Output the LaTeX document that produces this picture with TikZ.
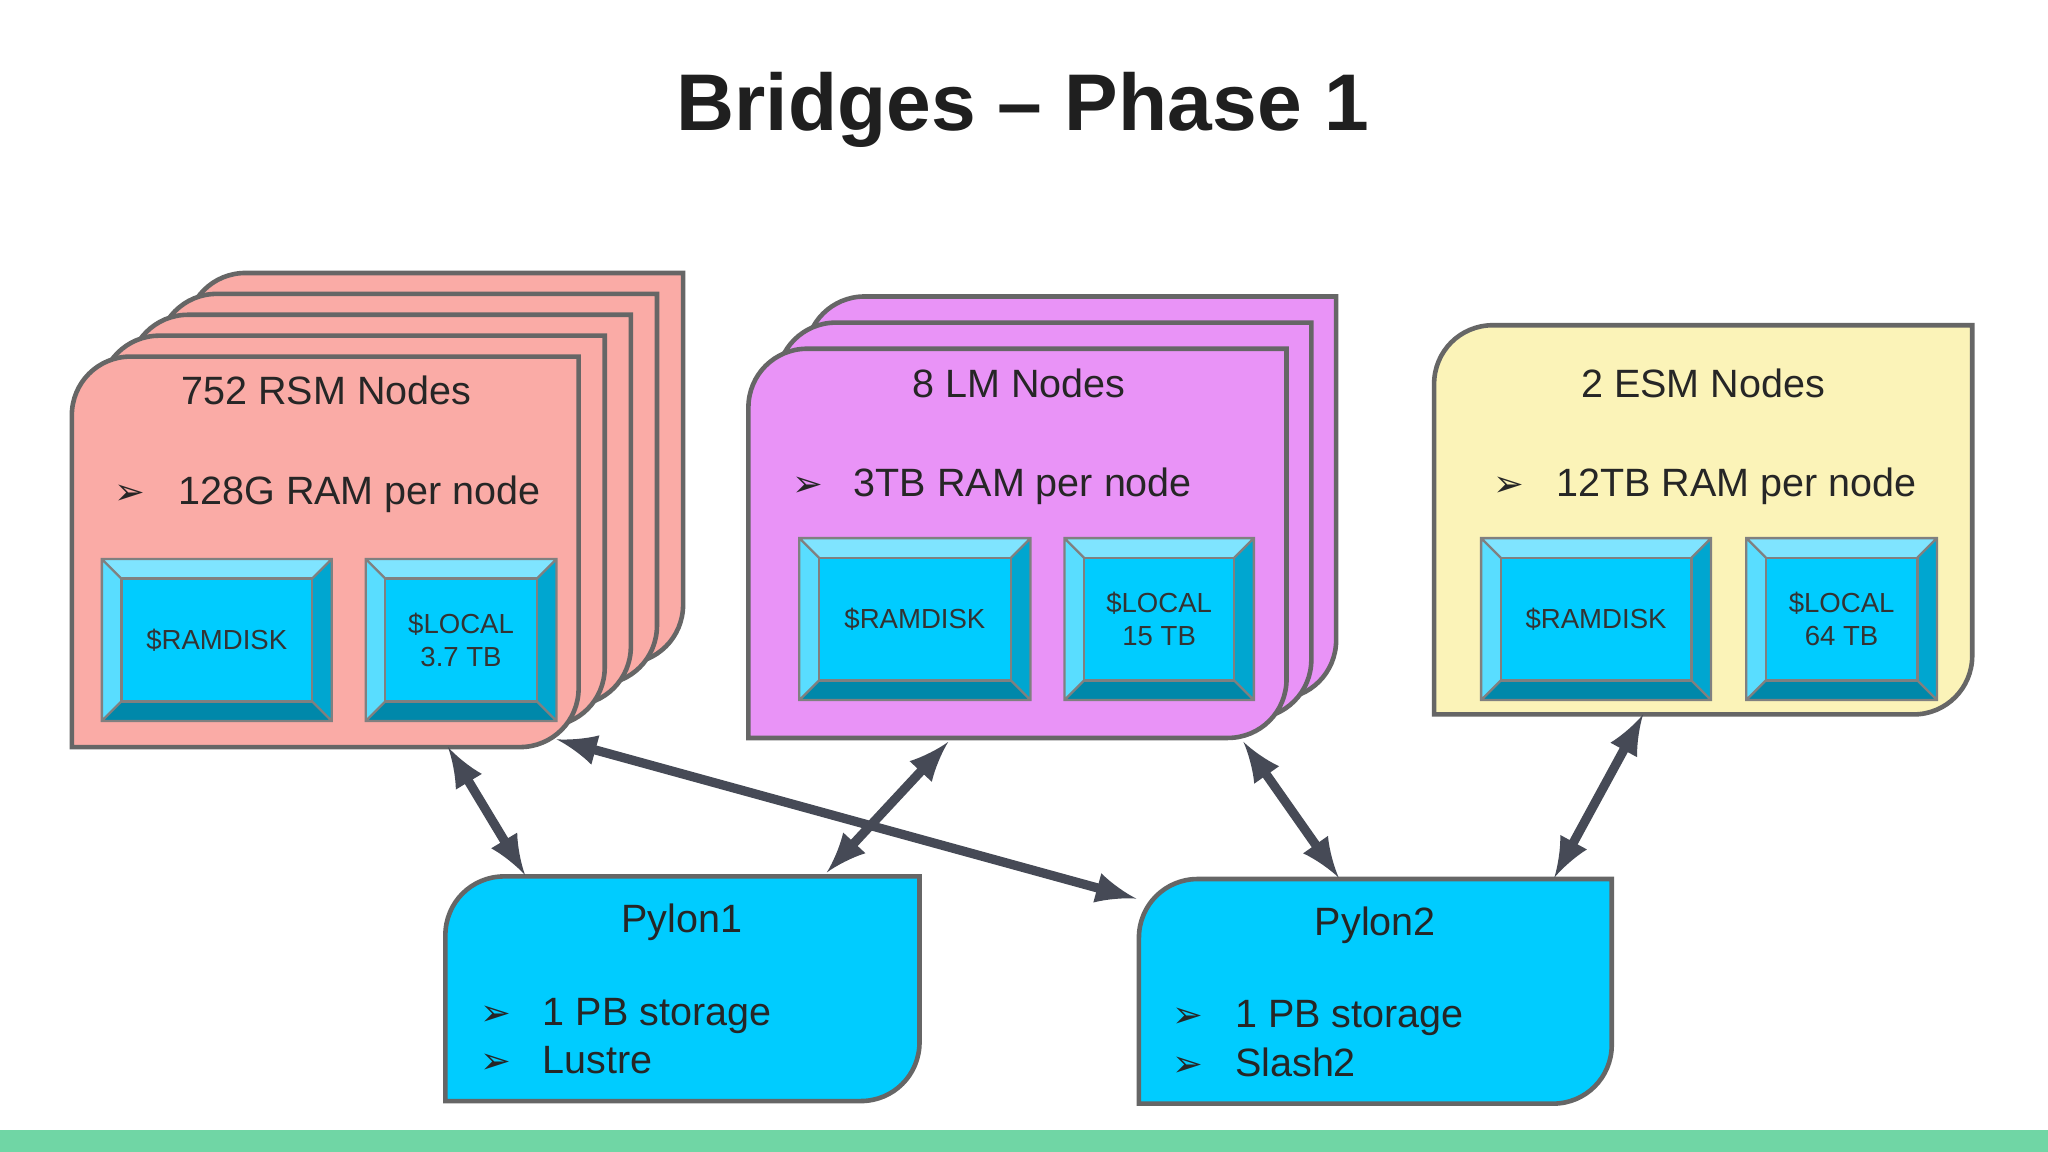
\documentclass[tikz,border=0pt]{standalone}
\usepackage{fontspec}
\setmainfont{Liberation Sans}
\newfontfamily\dejav{DejaVu Sans}
\begin{document}
\begin{tikzpicture}[x=0.01cm,y=-0.01cm,
  edge/.style={line width=1pt,draw=black!60},
  arr/.style={line width=2pt,draw={rgb,255:red,70;green,74;blue,86},<->,>={latex}},
  lbl/.style={font=\fontsize{8.6pt}{10pt}\selectfont,anchor=base,text=black!85},
  bl/.style={font=\fontsize{8.6pt}{10pt}\selectfont,anchor=base west,inner sep=0pt,text=black!85},
  bu/.style={font=\dejav\fontsize{8pt}{10pt}\selectfont,anchor=base west,inner sep=0pt,text=black!85},
  sm/.style={font=\fontsize{6pt}{7.2pt}\selectfont,align=center,text=black!80}]
\definecolor{rsm}{HTML}{FAABA6}\definecolor{lm}{HTML}{E993F7}
\definecolor{esm}{HTML}{FBF3B8}\definecolor{cy}{HTML}{00CCFF}
\definecolor{cyl}{HTML}{7FE4FF}\definecolor{cyd}{HTML}{0088AA}\definecolor{cym}{HTML}{00A6D0}
\definecolor{grn}{HTML}{70D6A5}
\useasboundingbox (0,0) rectangle (1568,882);
\fill[white] (0,0) rectangle (1568,882);
\fill[grn] (0,865) rectangle (1568,882);
\node[font=\fontsize{17.5pt}{20pt}\selectfont\bfseries,text=black!88] (title) at (783,84) {Bridges – Phase 1};
\newcommand\blob[5]{\filldraw[edge,fill=#5] (#1,#4) -- (#1,#2+45) .. controls (#1,#2+20) and (#1+20,#2) .. (#1+45,#2) -- (#3,#2) -- (#3,#4-45) .. controls (#3,#4-20) and (#3-20,#4) .. (#3-45,#4) -- cycle;}
\newcommand\bev[6]{%
 \fill[cyd] (#1,#2) rectangle (#3,#4);
 \fill[cyl] (#1,#2) -- (#3,#2) -- (#3-15,#2+15) -- (#1+15,#2+15) -- cycle;
 \fill[cyl!70!cy] (#1,#2) -- (#1+15,#2+15) -- (#1+15,#4-15) -- (#1,#4) -- cycle;
 \fill[cym] (#3,#2) -- (#3,#4) -- (#3-15,#4-15) -- (#3-15,#2+15) -- cycle;
 \filldraw[fill=cy,draw=black!50,line width=0.5pt] (#1+15,#2+15) rectangle (#3-15,#4-15);
 \draw[black!50,line width=0.5pt] (#1,#2) rectangle (#3,#4) (#1,#2)--(#1+15,#2+15) (#3,#2)--(#3-15,#2+15) (#1,#4)--(#1+15,#4-15) (#3,#4)--(#3-15,#4-15);
 \node[sm] (#6) at ({(#1+#3)/2},{(#2+#4)/2}) {#5};}
% RSM stack
\foreach \i in {4,3,2,1} {\blob{55+22*\i}{273-16*\i}{443+20*\i}{572-16*\i}{rsm}}
\blob{55}{273}{443}{572}{rsm}
\bev{78}{428}{254}{552}{\$RAMDISK}{r1}
\bev{280}{428}{426}{552}{\$LOCAL\\3.7 TB}{r2}
\node[lbl] (rsmt) at (250,310) {752 RSM Nodes};
\node[bu] (rb) at (87,386) {➢};
\node[bl] (rsmb) at (136,386) {128G RAM per node};
% LM stack
\foreach \i in {2,1} {\blob{573+22*\i}{267-20*\i}{985+19*\i}{565-15*\i}{lm}}
\blob{573}{267}{985}{565}{lm}
\bev{612}{412}{789}{536}{\$RAMDISK}{l1}
\bev{815}{412}{960}{536}{\$LOCAL\\15 TB}{l2}
\node[lbl] (lmt) at (780,304) {8 LM Nodes};
\node[bu] (lb) at (606,380) {➢};
\node[bl] (lmb) at (653,380) {3TB RAM per node};
% ESM
\blob{1098}{249}{1510}{547}{esm}
\bev{1134}{412}{1310}{536}{\$RAMDISK}{e1}
\bev{1337}{412}{1483}{536}{\$LOCAL\\64 TB}{e2}
\node[lbl] (esmt) at (1304,304) {2 ESM Nodes};
\node[bu] (eb) at (1143,380) {➢};
\node[bl] (esmb) at (1191,380) {12TB RAM per node};
% Pylons
\blob{341}{671}{704}{843}{cy}
\node[lbl] (p1t) at (522,714) {Pylon1};
\node[bu] (p1a) at (367,785) {➢};
\node[bl] (p1b) at (415,785) {1 PB storage};
\node[bu] (p1c) at (367,822) {➢};
\node[bl] (p1d) at (415,822) {Lustre};
\blob{872}{673}{1234}{845}{cy}
\node[lbl] (p2t) at (1053,716) {Pylon2};
\node[bu] (p2a) at (897,787) {➢};
\node[bl] (p2b) at (945,787) {1 PB storage};
\node[bu] (p2c) at (897,824) {➢};
\node[bl] (p2d) at (945,824) {Slash2};
% arrows
\coordinate (a1) at (343,572); \coordinate (b1) at (402,670);
\coordinate (a2) at (426,566); \coordinate (b2) at (870,688);
\coordinate (a3) at (726,568); \coordinate (b3) at (633,668);
\coordinate (a4) at (952,568); \coordinate (b4) at (1025,672);
\coordinate (a5) at (1258,547); \coordinate (b5) at (1190,672);
\foreach \k in {1,...,5} {\draw[arr] (a\k) -- (b\k);}
\end{tikzpicture}
\end{document}
